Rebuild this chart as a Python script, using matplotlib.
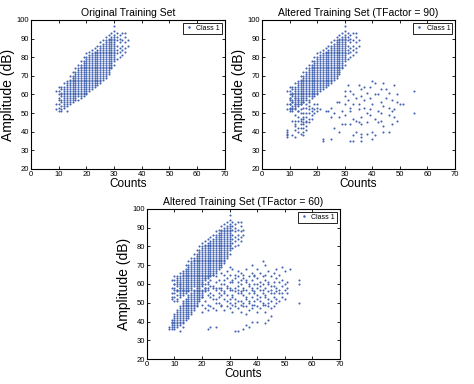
import matplotlib
matplotlib.use("Agg")
import matplotlib.pyplot as plt

plt.rcParams['font.family'] = ['Liberation Sans', 'DejaVu Sans']

# original training set: amplitude values (dB) per count value
base_counts = list(range(9, 36))
base_amps = [
    [52, 55, 62],
    [51, 53, 55, 57, 58, 60, 62, 64],
    [51, 52, 54, 56, 57, 59, 60, 61, 63, 64],
    [53, 54, 55, 56, 57, 58, 59, 60, 61, 62, 63, 64, 66],
    [51, 54, 55, 56, 57, 58, 59, 60, 61, 62, 63, 64, 65, 66, 67],
    [55, 56, 57, 58, 59, 60, 61, 62, 63, 64, 65, 66, 67, 68, 70],
    [56, 57, 58, 59, 60, 61, 62, 63, 64, 65, 66, 67, 68, 69, 70, 72],
    [57, 58, 59, 60, 61, 62, 63, 64, 65, 66, 67, 68, 69, 70, 71, 72, 74],
    [57, 59, 60, 61, 62, 63, 64, 65, 66, 67, 68, 69, 70, 71, 72, 73, 74, 76],
    [58, 59, 60, 61, 62, 63, 64, 65, 66, 67, 68, 69, 70, 71, 72, 73, 74, 75, 76, 78],
    [59, 60, 61, 62, 63, 64, 65, 66, 67, 68, 69, 70, 71, 72, 73, 74, 75, 76, 77, 78, 80],
    [60, 61, 62, 63, 64, 65, 66, 67, 68, 69, 70, 71, 72, 73, 74, 75, 76, 77, 78, 79, 80, 82],
    [62, 63, 64, 65, 66, 67, 68, 69, 70, 71, 72, 73, 74, 75, 76, 77, 78, 79, 80, 81, 83],
    [63, 64, 65, 66, 67, 68, 69, 70, 71, 72, 73, 74, 75, 76, 77, 78, 79, 80, 81, 82, 84],
    [64, 65, 66, 67, 68, 69, 70, 71, 72, 73, 74, 75, 76, 77, 78, 79, 80, 81, 82, 83, 85],
    [65, 66, 67, 68, 69, 70, 71, 72, 73, 74, 75, 76, 77, 78, 79, 80, 81, 82, 83, 84, 86],
    [66, 67, 68, 69, 70, 71, 72, 73, 74, 75, 76, 77, 78, 79, 80, 81, 82, 83, 84, 85, 86, 88],
    [68, 69, 70, 71, 72, 73, 74, 75, 76, 77, 78, 79, 80, 81, 82, 83, 84, 85, 86, 87, 89],
    [69, 70, 71, 72, 73, 74, 75, 76, 77, 78, 79, 80, 81, 82, 83, 84, 85, 86, 87, 88, 89, 91],
    [71, 72, 73, 74, 75, 76, 77, 78, 79, 80, 81, 82, 83, 84, 85, 86, 87, 88, 89, 90, 92],
    [74, 75, 76, 77, 78, 79, 80, 81, 82, 83, 84, 85, 86, 87, 88, 89, 90, 91, 93],
    [76, 78, 79, 80, 81, 82, 83, 84, 85, 86, 87, 88, 89, 90, 91, 92, 94, 97],
    [79, 82, 84, 86, 89, 91, 93],
    [80, 83, 85, 88, 90, 92],
    [81, 84, 86, 89, 93],
    [83, 85, 88, 91, 93],
    [86, 89],
]

# points added with TFactor = 90
extra90_x = [9, 9, 9, 9, 9, 10, 10, 11, 11, 11, 11, 12, 12, 12, 12, 12, 12, 12, 12,
             13, 13, 13, 13, 13, 13, 13, 14, 14, 14, 14, 14, 14, 14, 15, 15, 15, 15,
             15, 15, 15, 15, 15, 15, 16, 16, 16, 16, 16, 16, 16, 16, 17, 17, 17, 17,
             17, 17, 18, 18, 18, 18, 19, 19, 19, 20, 20, 20, 21, 23, 10, 11, 12, 14,
             22, 22, 25, 26, 28, 28, 30, 30, 30, 30, 31, 32, 32, 32, 32, 32, 33, 33,
             34, 35, 35, 35, 36, 36, 36, 36, 36, 36, 37, 38, 38, 38, 39, 40, 40, 40,
             41, 41, 41, 42, 43, 43, 43, 44, 44, 45, 46, 46, 46, 46, 47, 48, 48, 49,
             49, 49, 50, 51, 55, 55, 27, 25, 25, 28, 29, 31, 33, 34, 35, 37, 38, 39,
             39, 42, 42, 44, 45, 47, 47, 34, 26, 24, 44, 37, 40, 41, 29, 33, 48, 39,
             30, 33, 43, 36]
extra90_y = [37, 38, 39, 40, 41, 52, 55, 38, 46, 53, 56, 37, 41, 43, 44, 46, 49, 52, 58,
             40, 42, 46, 48, 51, 55, 57, 39, 42, 44, 46, 47, 50, 52, 38, 40, 42, 44,
             45, 47, 48, 50, 53, 56, 41, 43, 45, 46, 48, 50, 53, 55, 45, 47, 50, 52,
             54, 56, 47, 49, 51, 53, 50, 52, 55, 51, 53, 55, 52, 51, 58, 60, 55, 55,
             36, 35, 36, 42, 40, 56, 59, 55, 49, 44, 65, 62, 53, 51, 44, 35, 60, 35,
             46, 65, 55, 45, 63, 59, 44, 39, 37, 35, 53, 61, 50, 39, 64, 67, 55, 40,
             66, 60, 47, 51, 63, 56, 50, 43, 40, 58, 61, 53, 49, 40, 57, 65, 52, 60,
             56, 46, 55, 55, 62, 50, 56, 53, 48, 48, 51, 57, 47, 58, 52, 57, 45, 49,
             58, 60, 45, 54, 63, 51, 44, 40, 50, 51, 66, 64, 36, 38, 44, 55, 48, 52,
             62, 38, 46, 48]

# points added with TFactor = 60: lower band, per count value
band60_counts = list(range(8, 23))
band60_amps = [
    [36, 37],
    [36, 37, 38, 39, 40, 41],
    [37, 38, 39, 40, 41, 42, 43, 44],
    [37, 38, 39, 40, 41, 42, 43, 44, 45, 46],
    [38, 39, 40, 41, 42, 43, 44, 45, 46, 47, 48],
    [39, 40, 41, 42, 43, 44, 45, 46, 47, 48, 49, 50],
    [41, 42, 43, 44, 45, 46, 47, 48, 49, 50, 51, 52],
    [42, 43, 44, 45, 46, 47, 48, 49, 50, 51, 52, 53, 54],
    [44, 45, 46, 47, 48, 49, 50, 51, 52, 53, 54, 55],
    [46, 47, 48, 49, 50, 51, 52, 53, 54, 55, 56],
    [48, 49, 50, 51, 52, 53, 54, 55, 56, 57],
    [51, 52, 53, 54, 55, 56, 57, 58],
    [53, 54, 55, 56, 57, 59],
    [56, 57, 58, 60],
    [58, 60],
]
stray60_x = [9, 9, 10, 11, 11, 12, 12, 13, 10, 12, 13]
stray60_y = [53, 58, 60, 57, 62, 58, 60, 57, 36, 35, 37]

# points added with TFactor = 60: scattered cloud, per count value
cloud60_counts = [20, 21, 22, 23, 24, 25, 26, 27, 28, 29, 30, 31, 32, 33, 34, 35, 36,
                  37, 38, 39, 40, 41, 42, 43, 44, 45, 46, 47, 48, 49, 50, 51, 52, 55]
cloud60_amps = [
    [45, 49, 53, 60],
    [47, 51, 58, 63],
    [36, 46, 49, 54, 57, 61, 64],
    [37, 48, 53, 55, 59, 62],
    [47, 52, 54, 58, 59, 65],
    [37, 46, 50, 52, 57, 58, 61, 64],
    [50, 53, 55, 58, 62],
    [48, 49, 54, 57, 58, 60, 66],
    [46, 52, 55, 56, 60, 62, 65],
    [48, 51, 54, 58, 59, 63, 67],
    [47, 50, 52, 57, 58, 61, 65, 69],
    [45, 49, 53, 54, 57, 61, 62, 68],
    [35, 48, 50, 52, 56, 58, 63, 65],
    [35, 47, 51, 55, 57, 59, 61, 64, 67],
    [45, 49, 51, 55, 56, 60, 62, 66],
    [36, 48, 50, 54, 57, 58, 63, 65],
    [38, 44, 48, 52, 53, 57, 61, 62, 68],
    [37, 46, 50, 51, 55, 59, 60, 64],
    [40, 47, 49, 53, 57, 58, 62, 66, 70],
    [49, 51, 55, 56, 60, 64, 65],
    [40, 45, 48, 52, 54, 58, 60, 63, 68],
    [47, 51, 53, 57, 59, 61, 66],
    [49, 50, 55, 57, 60, 64, 72],
    [39, 45, 49, 53, 54, 58, 62, 65, 70],
    [41, 48, 50, 52, 56, 60, 61, 67],
    [43, 47, 51, 55, 57, 59, 64],
    [48, 53, 55, 59, 61, 66],
    [50, 52, 56, 58, 63, 68],
    [51, 55, 57, 61, 65],
    [53, 55, 59, 62, 69],
    [52, 57, 60, 67],
    [55, 58, 61],
    [68],
    [50, 60, 62],
]


def flatten(counts, amps):
    xs, ys = [], []
    for c, col in zip(counts, amps):
        xs += [c] * len(col)
        ys += col
    return xs, ys


bx, by = flatten(base_counts, base_amps)
lx, ly = flatten(band60_counts, band60_amps)
cx, cy = flatten(cloud60_counts, cloud60_amps)

panels = [
    ("Original Training Set", bx, by),
    ("Altered Training Set (TFactor = 90)", bx + extra90_x, by + extra90_y),
    ("Altered Training Set (TFactor = 60)",
     bx + lx + stray60_x + cx, by + ly + stray60_y + cy),
]
rects = [
    [0.0654, 0.560, 0.409, 0.388],
    [0.553, 0.560, 0.407, 0.388],
    [0.310, 0.065, 0.407, 0.391],
]

fig = plt.figure(figsize=(4.74, 3.84), dpi=100)
for (title, xs, ys), r in zip(panels, rects):
    ax = fig.add_axes(r)
    ax.plot(xs, ys, '.', color='#4565b0', ms=3.0, mew=0, label='Class 1')
    ax.set_xlim(0, 70)
    ax.set_ylim(20, 100)
    ax.set_xticks(range(0, 71, 10))
    ax.set_yticks(range(20, 101, 10))
    ax.tick_params(direction='in', length=2.5, width=0.6, labelsize=5.5,
                   top=True, right=True, pad=1.5)
    for s in ax.spines.values():
        s.set_linewidth(0.8)
    ax.set_title(title, fontsize=7.5, pad=2.5)
    ax.set_xlabel('Counts', fontsize=8.5, labelpad=0)
    ax.set_ylabel('Amplitude (dB)', fontsize=10, labelpad=1)
    leg = ax.legend(loc='upper right', fontsize=5, fancybox=False,
                    framealpha=1, edgecolor='black', handlelength=1,
                    handletextpad=0.6, borderpad=0.3, borderaxespad=0.4,
                    markerscale=1.2)
    leg.get_frame().set_linewidth(0.6)

fig.savefig('out.png', dpi=100)
